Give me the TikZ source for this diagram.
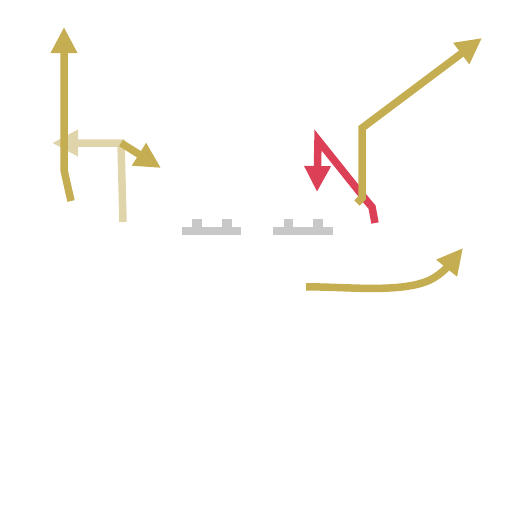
\documentclass[tikz,border=0pt]{standalone}
\usetikzlibrary{arrows.meta}
\definecolor{gold}{HTML}{C5AE52}
\definecolor{tan}{HTML}{E0D5AA}
\definecolor{redc}{HTML}{DC4057}
\definecolor{grayc}{HTML}{C8C8C8}
\tikzset{
  arr/.style={line width=7.5pt, line join=miter, -{Triangle[length=26pt,width=25pt]}},
  goldarr/.style={arr, draw=gold},
  tanarr/.style={arr, draw=tan},
  redarr/.style={arr, draw=redc},
  gpiece/.style={fill=grayc, draw=none}
}
\begin{document}
\begin{tikzpicture}[x=1pt,y=-1pt]
\useasboundingbox (0,0) rectangle (512,512);
% coordinates
\coordinate (t0) at (123,222);
\coordinate (t1) at (121,143);
\coordinate (t2) at (52,143);
\coordinate (g0) at (71,201);
\coordinate (g1) at (64,170);
\coordinate (g2) at (64,27);
\coordinate (s2) at (161,168);
\coordinate (r0) at (375,223);
\coordinate (r1) at (372,207);
\coordinate (r2) at (366,200);
\coordinate (r3) at (318,140);
\coordinate (r4) at (317,192);
\coordinate (h0) at (357,203);
\coordinate (h1) at (362,198);
\coordinate (h2) at (362,128);
\coordinate (h3) at (482,38);
\coordinate (c0) at (306,287);
\coordinate (c3) at (463,248);
% gray pieces
\fill[gpiece] (182,227) rectangle (241,235);
\fill[gpiece] (192,219) rectangle (202,228);
\fill[gpiece] (222,219) rectangle (232,228);
\fill[gpiece] (273,227) rectangle (333,235);
\fill[gpiece] (284,219) rectangle (293,228);
\fill[gpiece] (313,219) rectangle (323,228);
% light tan arrow
\draw[tanarr] (t0) -- (t1) -- (t2);
% gold arrows
\draw[goldarr] (t1) -- (s2);
\draw[goldarr] (g0) -- (g1) -- (g2);
% red arrow
\draw[redarr] (r0) -- (r1) -- (r2) -- (r3) -- (r4);
% right gold arrow
\draw[goldarr] (h0) -- (h1) -- (h2) -- (h3);
% bottom curve
\draw[goldarr] (c0) .. controls (340,286) and (400,294) .. (430,280) .. controls (442,274) and (450,264) .. (c3);
\end{tikzpicture}
\end{document}
